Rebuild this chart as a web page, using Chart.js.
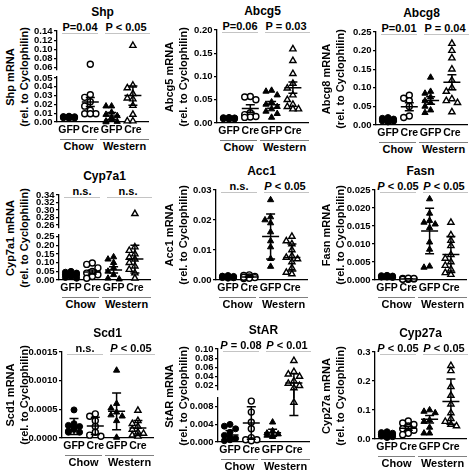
<!DOCTYPE html>
<html>
<head>
<meta charset="utf-8">
<script src="https://cdn.jsdelivr.net/npm/chart.js@4.4.1/dist/chart.umd.min.js"></script>
<style>
  body { margin: 0; background: #fff; }
  #fig { position: relative; width: 474px; height: 470px; overflow: hidden;
         font-family: "Liberation Sans", Arial, sans-serif; font-weight: bold; color: #000; }
  #fig canvas { position: absolute; }
  .t { position: absolute; white-space: nowrap; transform: translate(-50%, -50%); line-height: 1; }
  .title { font-size: 12px; }
  .pval { font-size: 11px; }
  .grp { font-size: 11px; }
  .ytitle { position: absolute; white-space: nowrap; font-size: 11px; line-height: 14px; text-align: center;
            transform: translate(-50%, -50%) rotate(-90deg); }
  .ln { position: absolute; }
</style>
</head>
<body>
<div id="fig"></div>
<script>
// categories
const xLabels = ['GFP', 'Cre', 'GFP', 'Cre'];
const dietLabels = ['Chow', 'Western'];

// Shp
const shpGfpChow = [0.0045, 0.005, 0.0052, 0.0055, 0.006, 0.0048, 0.0058, 0.0062, 0.0066, 0.0042];
const shpCreChow = [0.067, 0.031, 0.028, 0.023, 0.018, 0.0134, 0.0093, 0.0093, 0.0093];
const shpGfpWestern = [0.018, 0.018, 0.011, 0.0085, 0.007, 0.005, 0.003, 0.001, 0.0005, 0];
const shpCreWestern = [0.108, 0.0416, 0.0386, 0.032, 0.027, 0.026, 0.0186, 0.0085, 0.001, 0.001];
const shpMeans = [0.0053, 0.0227, 0.0068, 0.030];
const shpErrors = [0.0005, 0.005, 0.004, 0.011];
const shpTicksHigh = ['0.06', '0.08', '0.10', '0.12', '0.14'];
const shpTicksLow = ['0.00', '0.01', '0.02', '0.03', '0.04', '0.05'];
const shpP = ['P=0.04', 'P < 0.05'];

// Abcg5
const abcg5GfpChow = [0.008, 0.009, 0.0095, 0.01, 0.0105, 0.011, 0.012, 0.0085, 0.0115, 0.01];
const abcg5CreChow = [0.057, 0.056, 0.05, 0.022, 0.018, 0.014, 0.013, 0.012];
const abcg5GfpWestern = [0.07, 0.068, 0.06, 0.045, 0.04, 0.035, 0.03, 0.025, 0.02, 0.012];
const abcg5CreWestern = [0.159, 0.134, 0.106, 0.085, 0.075, 0.06, 0.05, 0.04, 0.035, 0.03, 0.03];
const abcg5Means = [0.010, 0.031, 0.039, 0.076];
const abcg5Errors = [0.0005, 0.008, 0.0075, 0.012];
const abcg5Ticks = ['0.00', '0.05', '0.10', '0.15', '0.20'];
const abcg5P = ['P=0.06', 'P = 0.03'];

// Abcg8
const abcg8GfpChow = [0.008, 0.01, 0.012, 0.013, 0.014, 0.015, 0.016, 0.018, 0.011, 0.02];
const abcg8CreChow = [0.08, 0.072, 0.065, 0.05, 0.024, 0.02];
const abcg8GfpWestern = [0.128, 0.09, 0.085, 0.075, 0.065, 0.06, 0.05, 0.04, 0.033];
const abcg8CreWestern = [0.219, 0.2, 0.18, 0.15, 0.12, 0.1, 0.09, 0.07, 0.065, 0.06, 0.035];
const abcg8Means = [0.013, 0.049, 0.066, 0.115];
const abcg8Errors = [0.001, 0.011, 0.01, 0.02];
const abcg8Ticks = ['0.00', '0.05', '0.10', '0.15', '0.20', '0.25'];
const abcg8P = ['P=0.01', 'P = 0.04'];

// Cyp7a1
const cyp7GfpChow = [0.05, 0.045, 0.04, 0.035, 0.03, 0.028, 0.025, 0.02, 0.015, 0.01];
const cyp7CreChow = [0.098, 0.09, 0.07, 0.05, 0.04, 0.03, 0.02, 0.01];
const cyp7GfpWestern = [0.133, 0.12, 0.1, 0.07, 0.05, 0.03, 0.01, 0.005];
const cyp7CreWestern = [0.29, 0.19, 0.17, 0.15, 0.13, 0.12, 0.1, 0.08, 0.06, 0.04, 0.01];
const cyp7Means = [0.031, 0.046, 0.058, 0.121];
const cyp7Errors = [0.005, 0.012, 0.018, 0.08];
const cyp7TicksHigh = ['0.26', '0.28', '0.30', '0.32', '0.34'];
const cyp7TicksLow = ['0.00', '0.05', '0.10', '0.15', '0.20', '0.25'];
const cyp7P = ['n.s.', 'n.s.'];

// Acc1
const acc1GfpChow = [0.0006, 0.0008, 0.0009, 0.001, 0.0011, 0.0012, 0.0013, 0.0015, 0.0007, 0.001];
const acc1CreChow = [0.0017, 0.0015, 0.0012, 0.001, 0.0008, 0.0006, 0.0005, 0.0009];
const acc1GfpWestern = [0.0267, 0.021, 0.02, 0.019, 0.016, 0.013, 0.011, 0.0071, 0.0045];
const acc1CreWestern = [0.0145, 0.013, 0.012, 0.01, 0.008, 0.0075, 0.007, 0.006, 0.004, 0.0025, 0.002];
const acc1Means = [0.001, 0.001, 0.0145, 0.0075];
const acc1Errors = [0.0001, 0.0001, 0.0075, 0.0045];
const acc1Ticks = ['0.00', '0.01', '0.02', '0.03'];
const acc1P = ['n.s.', 'P < 0.05'];

// Fasn
const fasnGfpChow = [0.0007, 0.0008, 0.0009, 0.001, 0.0011, 0.0012, 0.0013, 0.0008, 0.0009];
const fasnCreChow = [0.0002, 0.0003, 0.0003, 0.0004, 0.0002, 0.0003, 0.0005, 0.0004];
const fasnGfpWestern = [0.0225, 0.0185, 0.0165, 0.016, 0.0155, 0.0145, 0.0105, 0.0085, 0.0038, 0.0035];
const fasnCreWestern = [0.016, 0.0125, 0.011, 0.0095, 0.007, 0.006, 0.005, 0.004, 0.003, 0.002, 0.0015];
const fasnMeans = [0.0009, 0.0003, 0.0136, 0.0071];
const fasnErrors = [0.0001, 0.00005, 0.0063, 0.005];
const fasnTicks = ['0.000', '0.005', '0.010', '0.015', '0.020', '0.025'];
const fasnP = ['P < 0.05', 'P < 0.05'];

// Scd1
const scd1GfpChow = [0.00049, 0.00025, 0.00022, 0.0002, 0.00018, 0.00015, 0.00012, 0.0001, 0.0001];
const scd1CreChow = [0.00042, 0.00038, 0.0003, 0.0002, 0.0001, 0.00005, 0.00003];
const scd1GfpWestern = [0.00118, 0.0006, 0.00052, 0.00045, 0.0004, 0.00038, 0.0003, 0.00001];
const scd1CreWestern = [0.00048, 0.0003, 0.00025, 0.0002, 0.00015, 0.0001, 0.00008, 0.00005, 0.00003];
const scd1Means = [0.0002, 0.00021, 0.000465, 0.000175];
const scd1Errors = [0.00014, 0.00015, 0.00032, 0.00013];
const scd1Ticks = ['0.0000', '0.0005', '0.0010', '0.0015'];
const scd1P = ['n.s.', 'P < 0.05'];

// StAR
const starGfpChow = [0.004, 0.0036, 0.003, 0.0022, 0.0015, 0.001, 0.0008, 0.0005, 0.0003];
const starCreChow = [0.0114, 0.0093, 0.0068, 0.0045, 0.003, 0.001, 0.0005, 0.0005, 0.0003];
const starGfpWestern = [0.0045, 0.0025, 0.002, 0.0018, 0.0015, 0.0015, 0.0012];
const starCreWestern = [0.0745, 0.0505, 0.045, 0.04, 0.03, 0.025, 0.02, 0.015, 0.009];
const starMeans = [0.0016, 0.0043, 0.0021, 0.026];
const starErrors = [0.001, 0.0037, 0.0008, 0.02];
const starTicksHigh = ['0.02', '0.04', '0.06', '0.08', '0.10'];
const starTicksLow = ['0.000', '0.004', '0.008'];
const starP = ['P = 0.08', 'P < 0.01'];

// Cyp27a
const cyp27GfpChow = [0.005, 0.008, 0.01, 0.012, 0.015, 0.018, 0.02, 0.022, 0.025, 0.014];
const cyp27CreChow = [0.062, 0.055, 0.05, 0.045, 0.04, 0.035, 0.03, 0.025, 0.02, 0.015];
const cyp27GfpWestern = [0.1, 0.095, 0.09, 0.065, 0.06, 0.04, 0.02, 0.02];
const cyp27CreWestern = [0.253, 0.235, 0.18, 0.15, 0.12, 0.09, 0.07, 0.06, 0.05, 0.045];
const cyp27Means = [0.015, 0.037, 0.068, 0.129];
const cyp27Errors = [0.002, 0.007, 0.013, 0.078];
const cyp27Ticks = ['0.0', '0.1', '0.2', '0.3'];
const cyp27P = ['P < 0.05', 'P < 0.05'];

// panel layout (page pixels); segments listed top to bottom
const panels = [
  { gene: 'Shp', col: 0, axisX: 57, italicP: false, split: 0.053,
    groups: [shpGfpChow, shpCreChow, shpGfpWestern, shpCreWestern], means: shpMeans, errors: shpErrors, p: shpP,
    segs: [{ ticks: shpTicksHigh, min: 0.055, max: 0.14, top: 31, bottom: 71 },
           { ticks: shpTicksLow, min: 0, max: 0.0511, top: 77, bottom: 122 }] },
  { gene: 'Abcg5', col: 1, axisX: 217, italicP: false,
    groups: [abcg5GfpChow, abcg5CreChow, abcg5GfpWestern, abcg5CreWestern], means: abcg5Means, errors: abcg5Errors, p: abcg5P,
    segs: [{ ticks: abcg5Ticks, min: 0, max: 0.20, top: 30, bottom: 123 }] },
  { gene: 'Abcg8', col: 2, axisX: 376, italicP: false,
    groups: [abcg8GfpChow, abcg8CreChow, abcg8GfpWestern, abcg8CreWestern], means: abcg8Means, errors: abcg8Errors, p: abcg8P,
    segs: [{ ticks: abcg8Ticks, min: 0, max: 0.25, top: 32, bottom: 125 }] },
  { gene: 'Cyp7a1', col: 0, axisX: 59, italicP: false, split: 0.26,
    groups: [cyp7GfpChow, cyp7CreChow, cyp7GfpWestern, cyp7CreWestern], means: cyp7Means, errors: cyp7Errors, p: cyp7P,
    segs: [{ ticks: cyp7TicksHigh, min: 0.2525, max: 0.34, top: 195, bottom: 230 },
           { ticks: cyp7TicksLow, min: 0, max: 0.26, top: 235, bottom: 280 }] },
  { gene: 'Acc1', col: 1, axisX: 216, italicP: true,
    groups: [acc1GfpChow, acc1CreChow, acc1GfpWestern, acc1CreWestern], means: acc1Means, errors: acc1Errors, p: acc1P,
    segs: [{ ticks: acc1Ticks, min: 0, max: 0.03, top: 190, bottom: 280 }] },
  { gene: 'Fasn', col: 2, axisX: 375, italicP: true,
    groups: [fasnGfpChow, fasnCreChow, fasnGfpWestern, fasnCreWestern], means: fasnMeans, errors: fasnErrors, p: fasnP,
    segs: [{ ticks: fasnTicks, min: 0, max: 0.025, top: 190, bottom: 280 }] },
  { gene: 'Scd1', col: 0, axisX: 62, italicP: true,
    groups: [scd1GfpChow, scd1CreChow, scd1GfpWestern, scd1CreWestern], means: scd1Means, errors: scd1Errors, p: scd1P,
    segs: [{ ticks: scd1Ticks, min: 0, max: 0.0015, top: 352, bottom: 438 }] },
  { gene: 'StAR', col: 1, axisX: 218, italicP: true, split: 0.012,
    groups: [starGfpChow, starCreChow, starGfpWestern, starCreWestern], means: starMeans, errors: starErrors, p: starP,
    segs: [{ ticks: starTicksHigh, min: 0.0106, max: 0.10, top: 349, bottom: 390 },
           { ticks: starTicksLow, min: 0, max: 0.010, top: 398, bottom: 442 }] },
  { gene: 'Cyp27a', col: 2, axisX: 375, italicP: true,
    groups: [cyp27GfpChow, cyp27CreChow, cyp27GfpWestern, cyp27CreWestern], means: cyp27Means, errors: cyp27Errors, p: cyp27P,
    segs: [{ ticks: cyp27Ticks, min: 0, max: 0.3, top: 352, bottom: 439 }] }
];

const COL_BASE = [0, 159, 316];
const CAT_PX = 21.3, FIRST = 12, AREA_W = 91, AXIS_W = 57, PAD_R = 10, PAD_T = 10, X_H = 16;
const X_MIN = 1 - FIRST / CAT_PX, X_MAX = X_MIN + AREA_W / CAT_PX;
const FONT = "'Liberation Sans', Arial, sans-serif";
const fig = document.getElementById('fig');

function addText(html, x, y, cls) {
  const d = document.createElement('div');
  d.className = 't ' + cls;
  d.innerHTML = html;
  d.style.left = x + 'px';
  d.style.top = y + 'px';
  fig.appendChild(d);
}

function addLine(x1, x2, y, color, h) {
  const d = document.createElement('div');
  d.className = 'ln';
  d.style.left = x1 + 'px';
  d.style.top = y + 'px';
  d.style.width = (x2 - x1) + 'px';
  d.style.height = h + 'px';
  d.style.background = color;
  fig.appendChild(d);
}

// spread points sideways only where they would sit on top of each other
function swarm(values, pxPerY) {
  const order = values.map((v, i) => i).sort((a, b) => values[b] - values[a]);
  const placed = [];
  const off = new Array(values.length).fill(0);
  const steps = [0, -1, 1, -2, 2, -3, 3];
  order.forEach(i => {
    const y = values[i] * pxPerY;
    let best = 0, bestHits = Infinity;
    for (const s of steps) {
      const x = s * 2.8;
      const hits = placed.filter(q => Math.abs(q.x - x) < 4.5 && Math.abs(q.y - y) < 5).length;
      if (hits < bestHits) { bestHits = hits; best = x; }
      if (!hits) break;
    }
    placed.push({ x: best, y: y });
    off[i] = best;
  });
  return off;
}

const meanErr = {
  id: 'meanErr',
  afterDatasetsDraw(chart, args, opts) {
    const { ctx, chartArea } = chart;
    const x = chart.scales.x, y = chart.scales.y;
    ctx.save();
    ctx.strokeStyle = '#000';
    ctx.lineWidth = 1.5;
    opts.means.forEach((m, i) => {
      const lo = m - opts.errors[i], hi = m + opts.errors[i];
      if (hi < y.min || lo > y.max) return;
      const cx = x.getPixelForValue(i + 1);
      const yTop = hi > y.max ? (opts.hasAbove ? 0 : chartArea.top) : y.getPixelForValue(hi);
      const yBot = lo < y.min ? (opts.hasBelow ? chart.height : chartArea.bottom) : y.getPixelForValue(lo);
      ctx.beginPath();
      ctx.moveTo(cx, yTop); ctx.lineTo(cx, yBot);
      if (hi <= y.max) { ctx.moveTo(cx - 4.5, yTop); ctx.lineTo(cx + 4.5, yTop); }
      if (lo >= y.min) { ctx.moveTo(cx - 4.5, yBot); ctx.lineTo(cx + 4.5, yBot); }
      if (m >= y.min && m <= y.max) {
        const my = y.getPixelForValue(m);
        ctx.moveTo(cx - 8.5, my); ctx.lineTo(cx + 8.5, my);
      }
      ctx.stroke();
    });
    ctx.restore();
  }
};

const markers = [
  { pointStyle: 'circle', pointRadius: 3, backgroundColor: '#000', borderWidth: 1 },
  { pointStyle: 'circle', pointRadius: 3, backgroundColor: '#fff', borderWidth: 1.4 },
  { pointStyle: 'triangle', pointRadius: 3.6, backgroundColor: '#000', borderWidth: 1 },
  { pointStyle: 'triangle', pointRadius: 3.6, backgroundColor: '#fff', borderWidth: 1.4 }
];

panels.forEach(p => {
  const colBase = COL_BASE[p.col];
  const segs = p.segs;
  const plotTop = segs[0].top, plotBottom = segs[segs.length - 1].bottom;
  const ax = p.axisX;
  const broken = segs.length > 1;

  // texts around the plot
  addText(p.gene, ax + 45.5, plotTop - 19, 'title');
  const fmtP = s => p.italicP && s[0] === 'P' ? '<i>P</i>' + s.slice(1) : s;
  addText(fmtP(p.p[0]), ax + 23, plotTop - 4.5, 'pval');
  addText(fmtP(p.p[1]), ax + 69, plotTop - 4.5, 'pval');
  addLine(ax + 5, ax + 41, plotTop + 1.5, '#c4c4c4', 1.5);
  addLine(ax + 48, ax + 93, plotTop + 1.5, '#c4c4c4', 1.5);
  addLine(ax + 3, ax + 40, plotBottom + 16.5, '#808080', 1.3);
  addLine(ax + 43, ax + 92, plotBottom + 16.5, '#808080', 1.3);
  addText(dietLabels[0], ax + 21.5, plotBottom + 24, 'grp');
  addText(dietLabels[1], ax + 67.5, plotBottom + 24, 'grp');
  const yt = document.createElement('div');
  yt.className = 'ytitle';
  yt.innerHTML = p.gene + ' mRNA<br>(rel. to Cyclophilin)';
  yt.style.left = (colBase + 17) + 'px';
  yt.style.top = ((plotTop + plotBottom) / 2) + 'px';
  fig.appendChild(yt);

  segs.forEach((seg, si) => {
    const isLast = si === segs.length - 1;
    const pxPerY = (seg.bottom - seg.top) / (seg.max - seg.min);
    const inSeg = v => !broken || (si === 0 ? v >= p.split : v < p.split);
    const datasets = p.groups.map((vals, gi) => {
      const sel = vals.filter(inSeg);
      const off = swarm(sel, pxPerY);
      return Object.assign({
        data: sel.map((v, k) => ({ x: gi + 1 + off[k] / CAT_PX, y: v })),
        borderColor: '#000',
        clip: false
      }, markers[gi]);
    });

    const cTop = seg.top - PAD_T;
    const cBottom = isLast ? seg.bottom + X_H : segs[si + 1].top;
    const canvas = document.createElement('canvas');
    canvas.width = AXIS_W + AREA_W + PAD_R;
    canvas.height = cBottom - cTop;
    canvas.style.left = (ax - AXIS_W) + 'px';
    canvas.style.top = cTop + 'px';
    fig.appendChild(canvas);

    const tickVals = seg.ticks.map(parseFloat);
    new Chart(canvas, {
      type: 'scatter',
      data: { datasets: datasets },
      options: {
        responsive: false,
        animation: false,
        events: [],
        layout: { padding: { top: PAD_T, right: PAD_R, left: 0, bottom: isLast ? 0 : cBottom - seg.bottom } },
        plugins: {
          legend: { display: false },
          tooltip: { enabled: false },
          meanErr: { means: p.means, errors: p.errors, hasAbove: broken && si > 0, hasBelow: broken && !isLast }
        },
        scales: {
          x: {
            type: 'linear', min: X_MIN, max: X_MAX, display: isLast,
            afterFit: s => { s.height = isLast ? X_H : 0; },
            afterBuildTicks: s => { s.ticks = [1, 2, 3, 4].map(v => ({ value: v })); },
            ticks: { callback: v => xLabels[v - 1], padding: 2, autoSkip: false, maxRotation: 0,
                     color: '#000', font: { family: FONT, weight: 'bold', size: 10.5 } },
            grid: { drawOnChartArea: false, drawTicks: false },
            border: { color: '#000', width: 1.3 }
          },
          y: {
            type: 'linear', min: seg.min, max: seg.max,
            afterFit: s => { s.width = AXIS_W; },
            afterBuildTicks: s => { s.ticks = tickVals.map(v => ({ value: v })); },
            ticks: { callback: (v, i) => seg.ticks[i], padding: 1.5, color: '#000', autoSkip: false,
                     font: { family: FONT, weight: 'bold', size: 9.5 } },
            grid: { drawOnChartArea: false, drawTicks: true, tickLength: 3, color: '#000', lineWidth: 1.2 },
            border: { color: '#000', width: 1.3 }
          }
        }
      },
      plugins: [meanErr]
    });
  });
});
</script>
</body>
</html>
